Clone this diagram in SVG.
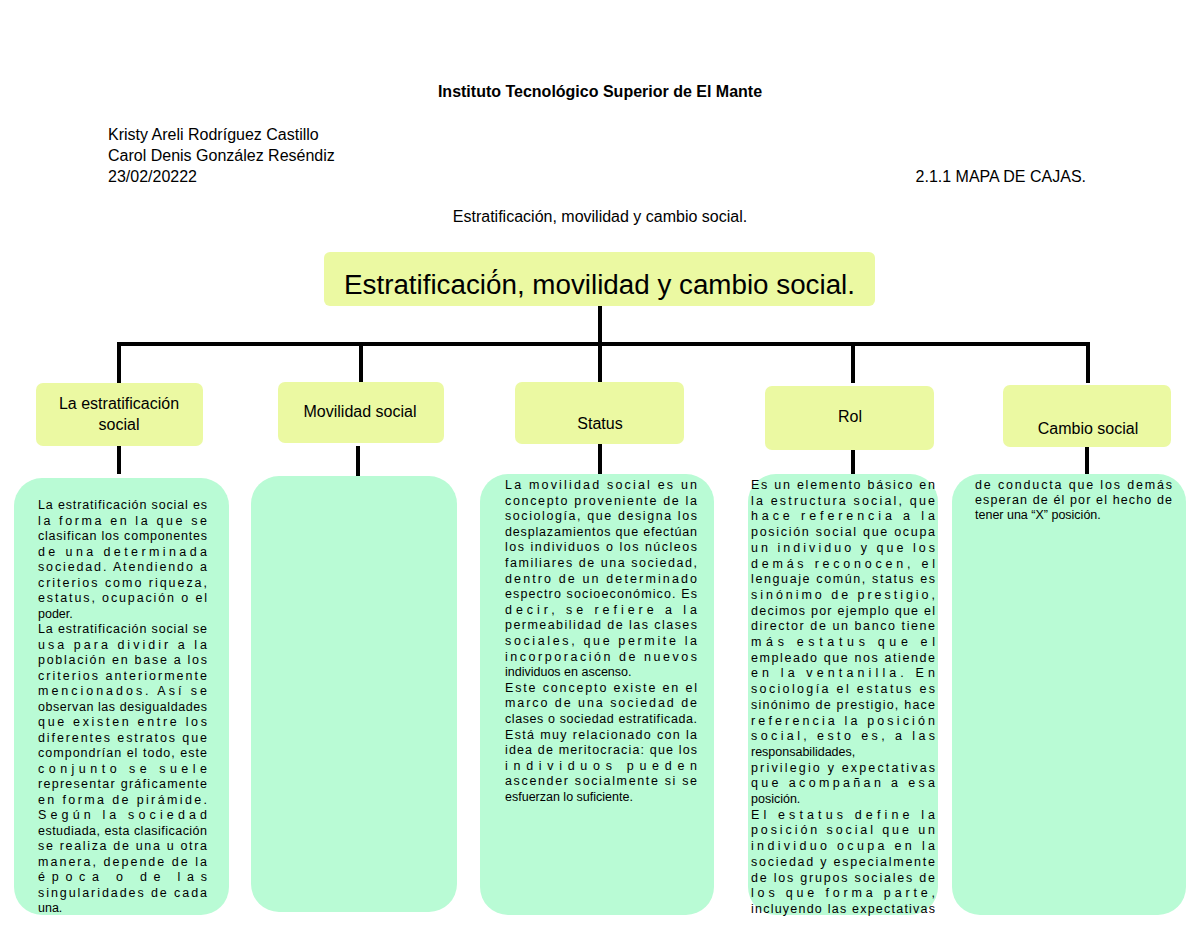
<svg xmlns="http://www.w3.org/2000/svg" width="1200" height="927" viewBox="0 0 1200 927">
<style>
text{font-family:"Liberation Sans",Arial,sans-serif;fill:#000}
.h{font-size:16px}
.hb{fill:#ebf9a2;stroke:none}
.tb{fill:#b9fbd5;stroke:none}
.b{font-size:12.5px}
.c{stroke:#000;stroke-width:4;fill:none}
</style>
<rect width="1200" height="927" fill="#fff"/>
<g id="header">
<text x="600" y="97" text-anchor="middle" class="h" font-weight="bold">Instituto Tecnológico Superior de El Mante</text>
<text x="108" y="140" class="h">Kristy Areli Rodríguez Castillo</text>
<text x="108" y="161" class="h">Carol Denis González Reséndiz</text>
<text x="108" y="182" class="h">23/02/20222</text>
<text x="1086" y="182" class="h" text-anchor="end">2.1.1 MAPA DE CAJAS.</text>
<text x="600" y="222" class="h" text-anchor="middle">Estratificación, movilidad y cambio social.</text>
</g>
<g id="connectors">
<path class="c" d="M600 306V344M119 383V344H1088V383M361 344V383M600 344V383M853 344V383"/>
<path class="c" d="M119 446V474M358 446V476M600 444V476M853 450V477M1087 447V477"/>
</g>
<g id="main">
<rect class="hb" x="324" y="252" width="551" height="54" rx="6"/>
<text x="344" y="294" font-size="27" textLength="511" lengthAdjust="spacingAndGlyphs">Estratificació́n, movilidad y cambio social.</text>
</g>
<g id="n1">
<rect class="hb" x="36" y="383" width="167" height="63" rx="7"/>
<text x="119" y="409" class="h" text-anchor="middle">La estratificación</text>
<text x="119" y="430" class="h" text-anchor="middle">social</text>
</g>
<g id="n2">
<rect class="hb" x="278" y="382" width="166" height="61" rx="7"/>
<text x="360" y="417" class="h" text-anchor="middle">Movilidad social</text>
</g>
<g id="n3">
<rect class="hb" x="515" y="382" width="169" height="62" rx="7"/>
<text x="600" y="429" class="h" text-anchor="middle">Status</text>
</g>
<g id="n4">
<rect class="hb" x="765" y="386" width="169" height="64" rx="7"/>
<text x="850" y="422" class="h" text-anchor="middle">Rol</text>
</g>
<g id="n5">
<rect class="hb" x="1003" y="385" width="168" height="62" rx="7"/>
<text x="1088" y="434" class="h" text-anchor="middle">Cambio social</text>
</g>
<g id="t1" class="b">
<rect class="tb" x="14" y="478" width="215" height="437" rx="28"/>
<text x="38" y="509" textLength="169">La estratificación social es</text>
<text x="38" y="524.5" textLength="169">la forma en la que se</text>
<text x="38" y="540" textLength="169">clasifican los componentes</text>
<text x="38" y="555.5" textLength="169">de una determinada</text>
<text x="38" y="571" textLength="169">sociedad. Atendiendo a</text>
<text x="38" y="586.5" textLength="169">criterios como riqueza,</text>
<text x="38" y="602" textLength="169">estatus, ocupación o el</text>
<text x="38" y="617.5">poder.</text>
<text x="38" y="633" textLength="169">La estratificación social se</text>
<text x="38" y="648.5" textLength="169">usa para dividir a la</text>
<text x="38" y="664" textLength="169">población en base a los</text>
<text x="38" y="679.5" textLength="169">criterios anteriormente</text>
<text x="38" y="695" textLength="169">mencionados. Así se</text>
<text x="38" y="710.5" textLength="169">observan las desigualdades</text>
<text x="38" y="726" textLength="169">que existen entre los</text>
<text x="38" y="741.5" textLength="169">diferentes estratos que</text>
<text x="38" y="757" textLength="169">compondrían el todo, este</text>
<text x="38" y="772.5" textLength="169">conjunto se suele</text>
<text x="38" y="788" textLength="169">representar gráficamente</text>
<text x="38" y="803.5" textLength="169">en forma de pirámide.</text>
<text x="38" y="819" textLength="169">Según la sociedad</text>
<text x="38" y="834.5" textLength="169">estudiada, esta clasificación</text>
<text x="38" y="850" textLength="169">se realiza de una u otra</text>
<text x="38" y="865.5" textLength="169">manera, depende de la</text>
<text x="38" y="881" textLength="169">época o de las</text>
<text x="38" y="896.5" textLength="169">singularidades de cada</text>
<text x="38" y="912">una.</text>
</g>
<g id="t2">
<rect class="tb" x="251" y="476" width="206" height="436" rx="28"/>
</g>
<g id="t3" class="b">
<rect class="tb" x="480" y="474" width="234" height="441" rx="28"/>
<text x="505" y="489" textLength="192">La movilidad social es un</text>
<text x="505" y="504.6" textLength="192">concepto proveniente de la</text>
<text x="505" y="520.2" textLength="192">sociología, que designa los</text>
<text x="505" y="535.8" textLength="192">desplazamientos que efectúan</text>
<text x="505" y="551.4" textLength="192">los individuos o los núcleos</text>
<text x="505" y="567" textLength="192">familiares de una sociedad,</text>
<text x="505" y="582.6" textLength="192">dentro de un determinado</text>
<text x="505" y="598.2" textLength="192">espectro socioeconómico. Es</text>
<text x="505" y="613.8" textLength="192">decir, se refiere a la</text>
<text x="505" y="629.4" textLength="192">permeabilidad de las clases</text>
<text x="505" y="645" textLength="192">sociales, que permite la</text>
<text x="505" y="660.6" textLength="192">incorporación de nuevos</text>
<text x="505" y="676.2">individuos en ascenso.</text>
<text x="505" y="691.8" textLength="192">Este concepto existe en el</text>
<text x="505" y="707.4" textLength="192">marco de una sociedad de</text>
<text x="505" y="723" textLength="192">clases o sociedad estratificada.</text>
<text x="505" y="738.6" textLength="192">Está muy relacionado con la</text>
<text x="505" y="754.2" textLength="192">idea de meritocracia: que los</text>
<text x="505" y="769.8" textLength="192">individuos pueden</text>
<text x="505" y="785.4" textLength="192">ascender socialmente si se</text>
<text x="505" y="801">esfuerzan lo suficiente.</text>
</g>
<g id="t4" class="b">
<rect class="tb" x="748" y="474" width="190" height="441" rx="28"/>
<text x="751" y="489" textLength="184">Es un elemento básico en</text>
<text x="751" y="504.7" textLength="184">la estructura social, que</text>
<text x="751" y="520.4" textLength="184">hace referencia a la</text>
<text x="751" y="536.1" textLength="184">posición social que ocupa</text>
<text x="751" y="551.8" textLength="184">un individuo y que los</text>
<text x="751" y="567.5" textLength="184">demás reconocen, el</text>
<text x="751" y="583.2" textLength="184">lenguaje común, status es</text>
<text x="751" y="598.9" textLength="184">sinónimo de prestigio,</text>
<text x="751" y="614.6" textLength="184">decimos por ejemplo que el</text>
<text x="751" y="630.3" textLength="184">director de un banco tiene</text>
<text x="751" y="646" textLength="184">más estatus que el</text>
<text x="751" y="661.7" textLength="184">empleado que nos atiende</text>
<text x="751" y="677.4" textLength="184">en la ventanilla. En</text>
<text x="751" y="693.1" textLength="184">sociología el estatus es</text>
<text x="751" y="708.8" textLength="184">sinónimo de prestigio, hace</text>
<text x="751" y="724.5" textLength="184">referencia la posición</text>
<text x="751" y="740.2" textLength="184">social, esto es, a las</text>
<text x="751" y="755.9">responsabilidades,</text>
<text x="751" y="771.6" textLength="184">privilegio y expectativas</text>
<text x="751" y="787.3" textLength="184">que acompañan a esa</text>
<text x="751" y="803">posición.</text>
<text x="751" y="818.7" textLength="184">El estatus define la</text>
<text x="751" y="834.4" textLength="184">posición social que un</text>
<text x="751" y="850.1" textLength="184">individuo ocupa en la</text>
<text x="751" y="865.8" textLength="184">sociedad y especialmente</text>
<text x="751" y="881.5" textLength="184">de los grupos sociales de</text>
<text x="751" y="897.2" textLength="184">los que forma parte,</text>
<text x="751" y="912.9" textLength="184">incluyendo las expectativas</text>
</g>
<g id="t5" class="b">
<rect class="tb" x="952" y="474" width="234" height="441" rx="28"/>
<text x="975" y="489" textLength="197">de conducta que los demás</text>
<text x="975" y="504" textLength="197">esperan de él por el hecho de</text>
<text x="975" y="519">tener una “X” posición.</text>
</g>
</svg>
